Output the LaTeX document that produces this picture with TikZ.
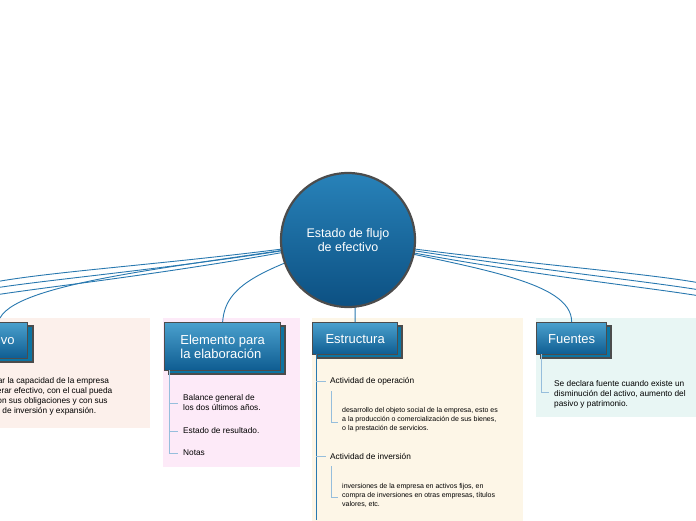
\documentclass[tikz,border=0pt]{standalone}
\usepackage{fontspec}
\setmainfont{Liberation Sans}
\definecolor{tTop}{RGB}{74,160,205}
\definecolor{tBot}{RGB}{14,92,145}
\definecolor{cIn}{RGB}{40,130,185}
\definecolor{cOut}{RGB}{12,80,130}
\definecolor{lnk}{RGB}{40,120,175}
\definecolor{subl}{RGB}{150,190,220}
\definecolor{pA}{RGB}{252,240,235}
\definecolor{pB}{RGB}{253,234,248}
\definecolor{pC}{RGB}{253,246,231}
\definecolor{pD}{RGB}{232,246,244}
\begin{document}
\begin{tikzpicture}[x=1pt,y=-1pt,
 conn/.style={draw=lnk, line width=0.9pt},
 titlebox/.style={draw=black!70, line width=1.3pt, top color=tTop, bottom color=tBot, text=white, font=\fontsize{13}{14.5}\selectfont, align=left, inner xsep=8pt, inner ysep=6pt},
 shadowbox/.style={draw=black!70, line width=1.3pt, fill=tBot!85!cyan},
 sub/.style={draw=subl, line width=0.7pt},
 body/.style={font=\fontsize{8.3}{10}\selectfont, align=left, anchor=west, inner sep=0pt},
 small/.style={font=\fontsize{7}{9}\selectfont, align=left, anchor=west, inner sep=0pt}]
\useasboundingbox (0,0) rectangle (696,520);
\clip (0,0) rectangle (696,520);
% panels
\fill[fill=pA] (-10,318) rectangle (150,428);
\fill[fill=pB] (163,318) rectangle (300,467);
\fill[fill=pC] (312,318) rectangle (523,525);
\fill[fill=pD] (536,318) rectangle (700,417);
% central
\coordinate (c) at (348,240);
\coordinate (L1) at (-5,282); \coordinate (L2) at (-5,288); \coordinate (L3) at (-5,295);
\coordinate (R1) at (700,283); \coordinate (R2) at (700,290); \coordinate (R3) at (700,296);
\draw[conn] (c) .. controls (200,262) and (60,270) .. (L1);
\draw[conn] (c) .. controls (200,266) and (60,278) .. (L2);
\draw[conn] (c) .. controls (200,270) and (60,285) .. (L3);
\draw[conn] (c) .. controls (500,262) and (640,272) .. (R1);
\draw[conn] (c) .. controls (500,266) and (640,280) .. (R2);
\draw[conn] (c) .. controls (500,272) and (640,286) .. (R3);
\draw[conn] (c) .. controls (200,265) and (20,280) .. (0,318);
% shadows
\draw[shadowbox] (-40,326) rectangle (33,362);
\draw[shadowbox] (169,326) rectangle (285,374);
\draw[shadowbox] (317,326) rectangle (402,358);
\draw[shadowbox] (541,326) rectangle (611,358);
% titles
\node[titlebox, minimum width=73pt, minimum height=36pt, anchor=north east] (t1) at (28,322) {Objetivo};
\node[titlebox, minimum width=116pt, minimum height=48pt, anchor=north west] (t2) at (164,322) {Elemento para\\la elaboración};
\node[titlebox, minimum width=85pt, minimum height=32pt, anchor=north west] (t3) at (312,322) {Estructura};
\node[titlebox, minimum width=70pt, minimum height=32pt, anchor=north west] (t4) at (536,322) {Fuentes};
\draw[conn] (c) .. controls (260,270) and (225,285) .. (t2.north);
\draw[conn] (c) -- (355,300) -- (t3.north);
\draw[conn] (c) .. controls (470,268) and (572,280) .. (t4.north);
\node[circle, minimum size=134pt, draw=black!70, line width=2.2pt, top color=cIn, bottom color=cOut, text=white, align=center, font=\fontsize{12.5}{14}\selectfont] (ctr) at (c) {Estado de flujo\\de efectivo};
% left text
\node[body] (o1) at (-36,396) {Determinar la capacidad de la empresa\\para generar efectivo, con el cual pueda\\cumplir con sus obligaciones y con sus\\proyectos de inversión y expansión.};
% elemento
\node[body] (e1) at (183,403) {Balance general de\\los dos últimos años.};
\node[body] (e2) at (183,431) {Estado de resultado.};
\node[body] (e3) at (183,453) {Notas};
\draw[sub] (169,370) -- (169,453) -- (178,453);
\draw[sub] (169,403) -- (178,403);
\draw[sub] (169,431) -- (178,431);
% estructura
\node[body] (k1) at (330,381) {Actividad de operación};
\node[small] (k2) at (342,420) {desarrollo del objeto social de la empresa, esto es\\a la producción o comercialización de sus bienes,\\o la prestación de servicios.};
\node[body] (k3) at (330,456) {Actividad de inversión};
\node[small] (k4) at (342,495) {inversiones de la empresa en activos fijos, en\\compra de inversiones en otras empresas, títulos\\valores, etc.};
\draw[conn, line width=0.8pt] (316,354) -- (316,520);
\draw[sub] (316,381) -- (326,381);
\draw[sub] (316,456) -- (326,456);
\draw[sub] (331,391) -- (331,422) -- (338,422);
\draw[sub] (331,466) -- (331,497) -- (338,497);
% fuentes
\node[body] (f1) at (554,394) {Se declara fuente cuando existe un\\disminución del activo, aumento del\\pasivo y patrimonio.};
\draw[sub] (541,354) -- (541,392) -- (549,392);
\end{tikzpicture}
\end{document}
